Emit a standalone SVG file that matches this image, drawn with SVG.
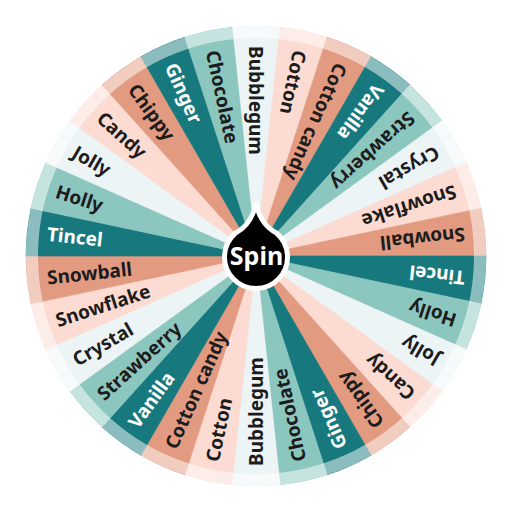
<svg xmlns="http://www.w3.org/2000/svg" xmlns:xlink="http://www.w3.org/1999/xlink" width="512" height="512" viewBox="0 0 512 512">
<defs>
<path id="w" d="M256,256 L484.74,231.96 A230,230 0 0 1 484.74,280.04 Z"/>
</defs>
<style>
.c0{fill:#edf4f6;stroke:#edf4f6}
.c1{fill:#fbdbd2;stroke:#fbdbd2}
.c2{fill:#e29a80;stroke:#e29a80}
.c3{fill:#17797d;stroke:#17797d}
.c4{fill:#8bc6bf;stroke:#8bc6bf}
use{stroke-width:0.6}
text{font-family:"Noto Sans","Liberation Sans",sans-serif;font-weight:700}
.lbl{fill:#1c1c1c;font-size:19px}
.lw{fill:#ffffff;font-size:19px}
.spin{fill:#ffffff;font-size:25px}
</style>
<rect width="512" height="512" fill="#ffffff"/>
<g id="wheel">
<use href="#w" class="c0" transform="rotate(-90 256 256)"/>
<use href="#w" class="c1" transform="rotate(-78 256 256)"/>
<use href="#w" class="c2" transform="rotate(-66 256 256)"/>
<use href="#w" class="c3" transform="rotate(-54 256 256)"/>
<use href="#w" class="c4" transform="rotate(-42 256 256)"/>
<use href="#w" class="c0" transform="rotate(-30 256 256)"/>
<use href="#w" class="c1" transform="rotate(-18 256 256)"/>
<use href="#w" class="c2" transform="rotate(-6 256 256)"/>
<use href="#w" class="c3" transform="rotate(6 256 256)"/>
<use href="#w" class="c4" transform="rotate(18 256 256)"/>
<use href="#w" class="c0" transform="rotate(30 256 256)"/>
<use href="#w" class="c1" transform="rotate(42 256 256)"/>
<use href="#w" class="c2" transform="rotate(54 256 256)"/>
<use href="#w" class="c3" transform="rotate(66 256 256)"/>
<use href="#w" class="c4" transform="rotate(78 256 256)"/>
<use href="#w" class="c0" transform="rotate(90 256 256)"/>
<use href="#w" class="c1" transform="rotate(102 256 256)"/>
<use href="#w" class="c2" transform="rotate(114 256 256)"/>
<use href="#w" class="c3" transform="rotate(126 256 256)"/>
<use href="#w" class="c4" transform="rotate(138 256 256)"/>
<use href="#w" class="c0" transform="rotate(150 256 256)"/>
<use href="#w" class="c1" transform="rotate(162 256 256)"/>
<use href="#w" class="c2" transform="rotate(174 256 256)"/>
<use href="#w" class="c3" transform="rotate(186 256 256)"/>
<use href="#w" class="c4" transform="rotate(198 256 256)"/>
<use href="#w" class="c0" transform="rotate(210 256 256)"/>
<use href="#w" class="c1" transform="rotate(222 256 256)"/>
<use href="#w" class="c2" transform="rotate(234 256 256)"/>
<use href="#w" class="c3" transform="rotate(246 256 256)"/>
<use href="#w" class="c4" transform="rotate(258 256 256)"/>
<circle cx="256" cy="256" r="224" fill="none" stroke="#ffffff" stroke-opacity="0.5" stroke-width="12"/>
</g>
<g id="labels">
<text class="lbl" x="46" y="256" dy="0.35em" transform="rotate(90 256 256)">Bubblegum</text>
<text class="lbl" x="46" y="256" dy="0.35em" transform="rotate(102 256 256)">Cotton</text>
<text class="lbl" x="46" y="256" dy="0.35em" transform="rotate(114 256 256)">Cotton candy</text>
<text class="lw" x="46" y="256" dy="0.35em" transform="rotate(126 256 256)">Vanilla</text>
<text class="lbl" x="46" y="256" dy="0.35em" transform="rotate(138 256 256)">Strawberry</text>
<text class="lbl" x="46" y="256" dy="0.35em" transform="rotate(150 256 256)">Crystal</text>
<text class="lbl" x="46" y="256" dy="0.35em" transform="rotate(162 256 256)">Snowflake</text>
<text class="lbl" x="46" y="256" dy="0.35em" transform="rotate(174 256 256)">Snowball</text>
<text class="lw" x="46" y="256" dy="0.35em" transform="rotate(186 256 256)">Tincel</text>
<text class="lbl" x="46" y="256" dy="0.35em" transform="rotate(198 256 256)">Holly</text>
<text class="lbl" x="46" y="256" dy="0.35em" transform="rotate(210 256 256)">Jolly</text>
<text class="lbl" x="46" y="256" dy="0.35em" transform="rotate(222 256 256)">Candy</text>
<text class="lbl" x="46" y="256" dy="0.35em" transform="rotate(234 256 256)">Chippy</text>
<text class="lw" x="46" y="256" dy="0.35em" transform="rotate(246 256 256)">Ginger</text>
<text class="lbl" x="46" y="256" dy="0.35em" transform="rotate(258 256 256)">Chocolate</text>
<text class="lbl" x="46" y="256" dy="0.35em" transform="rotate(270 256 256)">Bubblegum</text>
<text class="lbl" x="46" y="256" dy="0.35em" transform="rotate(282 256 256)">Cotton</text>
<text class="lbl" x="46" y="256" dy="0.35em" transform="rotate(294 256 256)">Cotton candy</text>
<text class="lw" x="46" y="256" dy="0.35em" transform="rotate(306 256 256)">Vanilla</text>
<text class="lbl" x="46" y="256" dy="0.35em" transform="rotate(318 256 256)">Strawberry</text>
<text class="lbl" x="46" y="256" dy="0.35em" transform="rotate(330 256 256)">Crystal</text>
<text class="lbl" x="46" y="256" dy="0.35em" transform="rotate(342 256 256)">Snowflake</text>
<text class="lbl" x="46" y="256" dy="0.35em" transform="rotate(354 256 256)">Snowball</text>
<text class="lw" x="46" y="256" dy="0.35em" transform="rotate(6 256 256)">Tincel</text>
<text class="lbl" x="46" y="256" dy="0.35em" transform="rotate(18 256 256)">Holly</text>
<text class="lbl" x="46" y="256" dy="0.35em" transform="rotate(30 256 256)">Jolly</text>
<text class="lbl" x="46" y="256" dy="0.35em" transform="rotate(42 256 256)">Candy</text>
<text class="lbl" x="46" y="256" dy="0.35em" transform="rotate(54 256 256)">Chippy</text>
<text class="lw" x="46" y="256" dy="0.35em" transform="rotate(66 256 256)">Ginger</text>
<text class="lbl" x="46" y="256" dy="0.35em" transform="rotate(78 256 256)">Chocolate</text>
</g>
<g id="spin">
<path d="M256,204 Q261,225 276.5,233 A31.5,31.5 0 1 1 235.5,233 Q251,225 256,204 Z" fill="#000000" stroke="#ffffff" stroke-width="5" stroke-linejoin="round"/>
<text class="spin" x="256.5" y="265" text-anchor="middle">Spin</text>
</g>
</svg>
